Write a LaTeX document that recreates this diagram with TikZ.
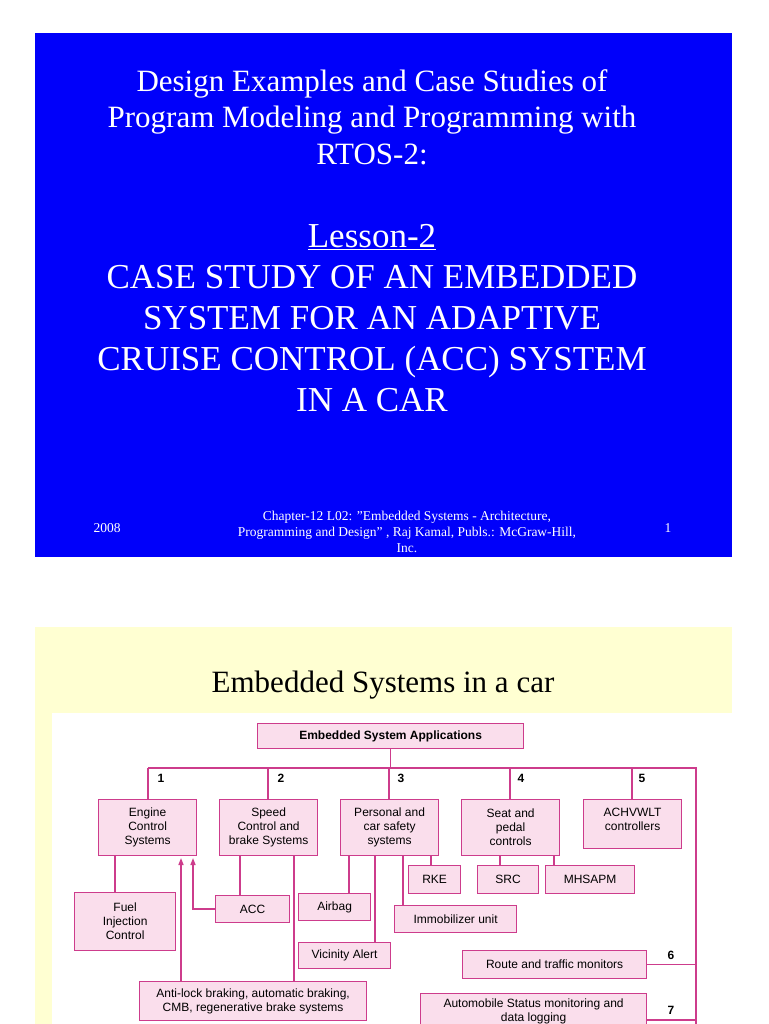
\documentclass[tikz,border=0pt]{standalone}
\usepackage{fontspec}
\setmainfont{Liberation Serif}
\newfontfamily\sansf{Liberation Sans}
\usetikzlibrary{arrows.meta}
\definecolor{slideblue}{RGB}{0,0,250}
\definecolor{slideyel}{RGB}{255,255,210}
\definecolor{bxfill}{RGB}{250,222,236}
\definecolor{bxline}{RGB}{205,60,140}
\begin{document}
\begin{tikzpicture}[x=1pt,y=-1pt,
  bx/.style={draw=bxline,fill=bxfill,line width=1.2pt,align=center,font=\sansf\fontsize{12}{14}\selectfont,inner sep=0pt,anchor=north west},
  ln/.style={draw=bxline,line width=1.5pt},
  num/.style={font=\sansf\bfseries\fontsize{12}{14}\selectfont},
  wt/.style={text=white,align=center}]
\useasboundingbox (0,0) rectangle (768,1024);
\fill[white] (0,0) rectangle (768,1024);
% slide 1
\fill[slideblue] (35,33) rectangle (732,557);
\node[wt,font=\fontsize{31}{36.5}\selectfont] (t1) at (372,117) {Design Examples and Case Studies of\\Program Modeling and Programming with\\RTOS-2:};
\node[wt,font=\fontsize{35}{41}\selectfont] (t2) at (372,318) {\underline{Lesson-2}\\CASE STUDY OF AN EMBEDDED\\SYSTEM FOR AN ADAPTIVE\\CRUISE CONTROL (ACC) SYSTEM\\IN A CAR};
\node[wt,font=\fontsize{13.5}{16}\selectfont] (fy) at (107,528) {2008};
\node[wt,font=\fontsize{13.5}{16}\selectfont] (fc) at (407,532) {Chapter-12 L02: "Embedded Systems - Architecture,\\Programming and Design" , Raj Kamal, Publs.: McGraw-Hill,\\Inc.};
\node[wt,font=\fontsize{13.5}{16}\selectfont] (fn) at (668,528) {1};
% slide 2
\fill[slideyel] (35,627) rectangle (732,1024);
\node[font=\fontsize{31}{34}\selectfont] (t3) at (383,685) {Embedded Systems in a car};
\fill[white] (52,713) rectangle (732,1024);
% diagram boxes
\node[bx,minimum width=266,minimum height=25,font=\sansf\bfseries\fontsize{12}{14}\selectfont] (esa) at (257,723) {Embedded System Applications};
\node[bx,minimum width=98,minimum height=56] (eng) at (98,799) {Engine\\Control\\Systems};
\node[bx,minimum width=98,minimum height=56] (spd) at (219,799) {Speed\\Control and\\brake Systems};
\node[bx,minimum width=98,minimum height=56] (per) at (340,799) {Personal and\\car safety\\systems};
\node[bx,minimum width=98,minimum height=56] (seat) at (461,799) {Seat and\\pedal\\controls};
\node[bx,minimum width=98,minimum height=49,text depth=10pt] (ach) at (583,799) {ACHVWLT\\controllers};
\node[bx,minimum width=101,minimum height=58] (fuel) at (74,892) {Fuel\\Injection\\Control};
\node[bx,minimum width=74,minimum height=27] (acc) at (215,895) {ACC};
\node[bx,minimum width=72,minimum height=27] (air) at (298,893) {Airbag};
\node[bx,minimum width=92,minimum height=26] (vic) at (298,942) {Vicinity Alert};
\node[bx,minimum width=52,minimum height=28] (rke) at (408,865) {RKE};
\node[bx,minimum width=122,minimum height=27] (imm) at (394,905) {Immobilizer unit};
\node[bx,minimum width=61,minimum height=28] (src) at (477,865) {SRC};
\node[bx,minimum width=89,minimum height=28] (mhs) at (545,865) {MHSAPM};
\node[bx,minimum width=184,minimum height=28] (route) at (462,950) {Route and traffic monitors};
\node[bx,minimum width=227,minimum height=39] (anti) at (139,981) {Anti-lock braking, automatic braking,\\CMB, regenerative brake systems};
\node[bx,minimum width=226,minimum height=36] (auto) at (420,993) {Automobile Status monitoring and\\data logging};
% bus
\coordinate (bl) at (148,768);
\coordinate (br) at (696,768);
\coordinate (bb) at (696,1024);
\coordinate (b7) at (696,1020);
\draw[ln] (esa.south) -- (esa.south |- bl);
\draw[ln] (bl) -- (br) -- (bb);
\draw[ln] (bl) -- (bl |- eng.north);
\draw[ln] (268,768) -- (268,799);
\draw[ln] (389,768) -- (389,799);
\draw[ln] (510,768) -- (510,799);
\draw[ln] (632,768) -- (632,799);
\node[num] (n1) at (161,778) {1};
\node[num] (n2) at (281,778) {2};
\node[num] (n3) at (401,778) {3};
\node[num] (n4) at (521,778) {4};
\node[num] (n5) at (642,778) {5};
\node[num] (n6) at (671,955) {6};
\node[num] (n7) at (671,1010) {7};
% sub connections
\draw[ln] (115,855) -- (115,892);
\draw[ln] (240,855) -- (240,895);
\draw[ln] (294,855) -- (294,981);
\draw[ln] (349,855) -- (349,893);
\draw[ln] (375,855) -- (375,942);
\draw[ln] (431,855) -- (431,865);
\draw[ln] (403,855) -- (403,905);
\draw[ln] (500,855) -- (500,865);
\draw[ln] (554,855) -- (554,865);
\draw[ln] (route.east) -- (route.east -| br);
\draw[ln] (auto.east |- b7) -- (b7);
\draw[ln,-{Triangle[length=7pt,width=5pt]}] (acc.west) -| (193,858);
\draw[ln,-{Triangle[length=7pt,width=5pt]}] (181,981) -- (181,858);
\end{tikzpicture}
\end{document}
